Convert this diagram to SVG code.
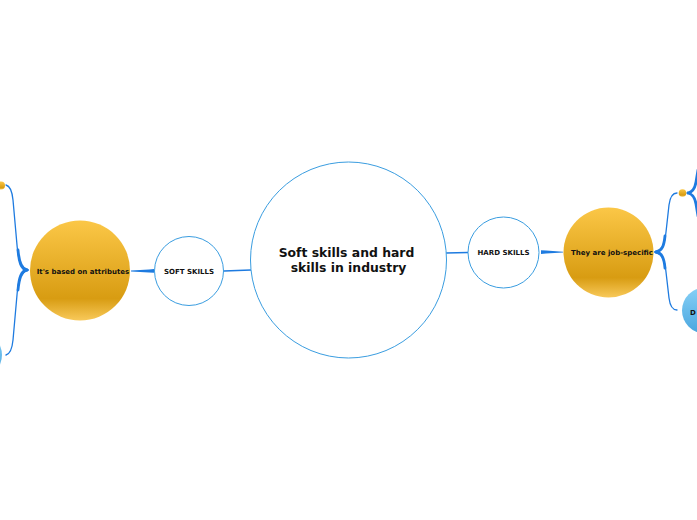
<svg xmlns="http://www.w3.org/2000/svg" width="697" height="520" viewBox="0 0 697 520">
<defs>
<linearGradient id="og" x1="0" y1="0" x2="0" y2="1">
<stop offset="0" stop-color="#fbc747"/>
<stop offset="0.78" stop-color="#d89c12"/>
<stop offset="1" stop-color="#f8c95a"/>
</linearGradient>
<linearGradient id="bg" x1="0" y1="0" x2="0" y2="1">
<stop offset="0" stop-color="#86d0f6"/>
<stop offset="1" stop-color="#4aa6df"/>
</linearGradient>
<style>
.ring{fill:#fff;stroke:#3a9de0;stroke-width:1}
.orb{fill:url(#og)}
.blu{fill:url(#bg)}
.t{font-family:"DejaVu Sans",Verdana,sans-serif;font-weight:bold;fill:#111;text-anchor:middle}
.s{font-size:7px}
.ln{fill:none;stroke:#1e7be0;stroke-linecap:round}
.th{stroke-width:1.3}
.tk{stroke-width:2.8}
.wd{fill:#1e7be0}
</style>
</defs>
<rect width="697" height="520" fill="#fff"/>
<g id="connectors">
<line class="ln" x1="446" y1="253" x2="468" y2="252.5" stroke-width="1.5"/>
<line class="ln" x1="251" y1="270" x2="224" y2="271" stroke-width="1.5"/>
<polygon class="wd" points="541,250.2 546,250.6 563,251.7 563,252.6 546,253.6 541,254"/>
<polygon class="wd" points="131,270.4 149,269.4 154,269 154,272.8 149,272.4 131,271.4"/>
<path class="ln th" d="M28,270 C20,268 18,258 17,245 L13,200 C12,190 10,186 6,185"/>
<path class="ln th" d="M28,270 C20,272 18,282 17,295 L13,340 C12,350 10,354 6,355"/>
<path class="ln tk" d="M27,270 C21,269 19,262 18,250"/>
<path class="ln tk" d="M27,270 C21,271 19,278 18,290"/>
<path class="ln th" d="M655,252 C663,250 665,242 666,232 L669,205 C670,197 672,193 677,193"/>
<path class="ln th" d="M655,252 C663,254 665,262 666,272 L669,298 C670,306 672,310 677,310"/>
<path class="ln tk" d="M656,252 C662,251 664,246 665,236"/>
<path class="ln tk" d="M656,252 C662,253 664,258 665,268"/>
<path class="ln tk" d="M688,193 C693,192 695,188 696,182 L698,170"/>
<path class="ln tk" d="M688,193 C693,194 695,198 696,204 L698,216"/>
</g>
<g id="center">
<circle class="ring" cx="348.5" cy="260" r="98"/>
<text class="t" x="346.5" y="257" font-size="12.4">Soft skills and hard</text>
<text class="t" x="348.5" y="272" font-size="12.4">skills in industry</text>
</g>
<g id="hard">
<circle class="ring" cx="503.5" cy="252.5" r="35.5"/>
<text class="t s" x="503.5" y="255">HARD SKILLS</text>
</g>
<g id="soft">
<circle class="ring" cx="189" cy="271" r="34.5"/>
<text class="t s" x="189" y="273.5">SOFT SKILLS</text>
</g>
<g id="jobspecific">
<circle class="orb" cx="608.5" cy="252.5" r="45"/>
<text class="t s" x="612" y="255">They are job-specific</text>
</g>
<g id="attributes">
<circle class="orb" cx="80" cy="270.5" r="50"/>
<text class="t s" x="83" y="273.5">It's based on attributes</text>
</g>
<g id="dot-right">
<circle class="orb" cx="682.5" cy="193" r="3.8"/>
</g>
<g id="dot-left">
<circle class="orb" cx="1" cy="185.5" r="4"/>
</g>
<g id="blue-right">
<circle class="blu" cx="705" cy="310.5" r="23"/>
<text class="t s" x="690" y="315" style="text-anchor:start">D</text>
</g>
<g id="blue-left">
<circle class="blu" cx="-21" cy="355" r="23"/>
</g>
</svg>
